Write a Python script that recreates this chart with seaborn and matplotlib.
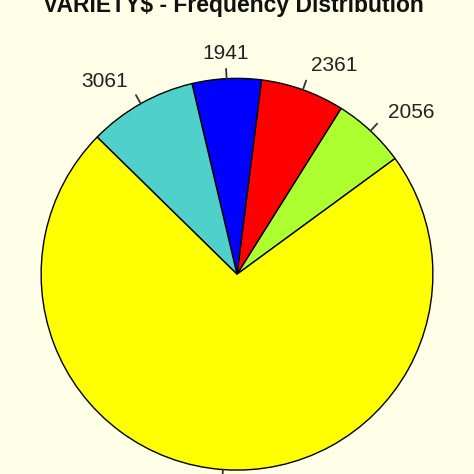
import matplotlib
matplotlib.use("Agg")
import matplotlib.pyplot as plt
import seaborn as sns
import numpy as np

# slice data, counter-clockwise from the green slice
varieties = ["V1", "V2", "V3", "V4", "V5"]
counts = [2056, 2361, 1941, 3061, 24700]
labels = ["2056", "2361", "1941", "3061", ""]
colors = ["#ADFF2F", "#FF0000", "#0000FF", "#4FD0CB", "#FFFF00"]

sns.set_style("white")
plt.rcParams["font.family"] = ["Liberation Sans", "DejaVu Sans"]

bg = "#FFFFE8"
fig = plt.figure(figsize=(4.74, 4.74), dpi=100, facecolor=bg)
ax = fig.add_axes([0, 0, 1, 1])
ax.set_facecolor(bg)

wedges, texts = ax.pie(counts, labels=labels, colors=colors, startangle=36.2,
                       counterclock=True, radius=1, labeldistance=1.13,
                       wedgeprops={"edgecolor": "black", "linewidth": 1.0},
                       textprops={"fontsize": 15, "color": "#222222"})

# label ticks like base R pie
for w, t in zip(wedges, texts):
    mid = np.deg2rad((w.theta1 + w.theta2) / 2)
    ax.plot([np.cos(mid), 1.05 * np.cos(mid)], [np.sin(mid), 1.05 * np.sin(mid)],
            color="#333333", lw=1.3)
    t.set_va("center")
    if abs(np.cos(mid)) < 0.1:
        t.set_ha("center")

ax.set_xlim(-1.21, 1.21)
ax.set_ylim(-1.02, 1.40)
ax.set_aspect("equal")
ax.axis("off")

fig.text(233.5 / 474, 462 / 474, "VARIETY$ - Frequency Distribution",
         ha="center", va="baseline", fontsize=16.5, fontweight="bold", color="#111111")

plt.savefig("out.png", dpi=100, facecolor=bg)
